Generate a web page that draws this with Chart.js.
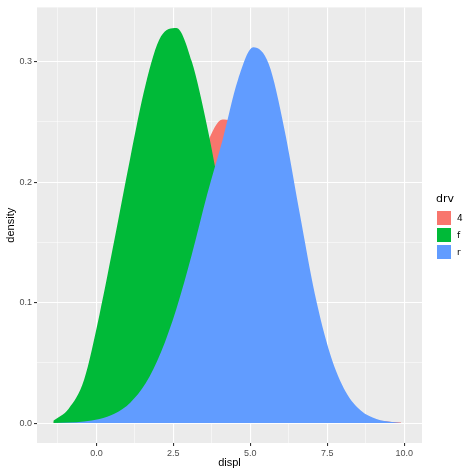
<!DOCTYPE html>
<html><head><meta charset="utf-8">
<script src="https://cdn.jsdelivr.net/npm/chart.js@4"></script>
<style>
body{margin:0;background:#fff;font-family:"DejaVu Sans",sans-serif}
#wrap{position:relative;width:474px;height:474px}
#leg{position:absolute;left:436px;top:192px;font-size:11px;color:#000}
.it{display:flex;align-items:center;height:17px;font-size:9px;color:#000}
.sw{width:14px;height:14px;margin-right:5px;border:1px solid #fff}
</style></head><body>
<div id="wrap"><canvas id="c" width="474" height="474"></canvas>
<div id="leg"><div style="margin-bottom:4px">drv</div>
<div class="it"><div class="sw" style="background:#F8766D"></div>4</div>
<div class="it"><div class="sw" style="background:#00BA38"></div>f</div>
<div class="it"><div class="sw" style="background:#619CFF"></div>r</div></div></div>
<script>
const xs=[-1.4,-0.9,-0.4,0.1,0.6,1.1,1.6,2.1,2.6,3.1,3.6,4.1,4.6,5.1,5.6,6.1,6.6,7.1,7.6,8.1,8.6,9.1,9.6,9.9];
const d4=[0.0005,0.0014,0.0037,0.0087,0.0186,0.036,0.063,0.102,0.147,0.193,0.232,0.252,0.246,0.217,0.175,0.128,0.085,0.051,0.028,0.014,0.006,0.0025,0.001,0.0005];
const dF=[0.002,0.012,0.036,0.090,0.154,0.220,0.281,0.321,0.328,0.300,0.246,0.180,0.118,0.069,0.036,0.017,0.0072,0.0028,0.001,0.0004,0.0002,0.0001,0,0];
const dR=[0.0002,0.0005,0.0014,0.0035,0.008,0.017,0.033,0.059,0.095,0.140,0.190,0.235,0.285,0.312,0.298,0.245,0.175,0.107,0.057,0.026,0.0102,0.0035,0.001,0.0002];
const xTicks=[0,2.5,5,7.5,10];
const yTicks=[0,0.1,0.2,0.3];
const pts=a=>a.map((v,i)=>({x:xs[i],y:v}));
const ds=(d,c,o)=>({data:pts(d),backgroundColor:c,borderWidth:0,fill:'origin',pointRadius:0,cubicInterpolationMode:'monotone',order:o});
const isMajor=(v,arr)=>arr.some(t=>Math.abs(t-v)<1e-6);
new Chart(document.getElementById('c'),{type:'line',
data:{datasets:[ds(d4,'#F8766D',3),ds(dF,'#00BA38',2),ds(dR,'#619CFF',1)]},
options:{responsive:false,animation:false,layout:{padding:{top:5,right:52}},
plugins:{legend:{display:false},tooltip:{enabled:false}},
scales:{
x:{type:'linear',min:-1.93,max:10.58,afterBuildTicks:s=>{s.ticks=[-1.25,0,1.25,2.5,3.75,5,6.25,7.5,8.75,10].map(v=>({value:v}));},
 ticks:{color:'#4D4D4D',font:{size:9},maxRotation:0,padding:2,callback:v=>isMajor(v,xTicks)?v.toFixed(1):''},
 grid:{color:'#fff',lineWidth:c=>isMajor(c.tick.value,xTicks)?1.1:0.5,tickLength:3,tickColor:c=>isMajor(c.tick.value,xTicks)?'#333':'rgba(0,0,0,0)'},border:{display:false},
 title:{display:true,text:'displ',font:{size:11},color:'#000',padding:{top:0}},afterFit:s=>{s.height=31;}},
y:{min:-0.0165,max:0.345,afterBuildTicks:s=>{s.ticks=[0,0.05,0.1,0.15,0.2,0.25,0.3].map(v=>({value:v}));},
 ticks:{color:'#4D4D4D',font:{size:9},padding:2,callback:v=>isMajor(v,yTicks)?v.toFixed(1):''},
 grid:{color:'#fff',lineWidth:c=>isMajor(c.tick.value,yTicks)?1.1:0.5,tickLength:3,tickColor:c=>isMajor(c.tick.value,yTicks)?'#333':'rgba(0,0,0,0)'},border:{display:false},
 title:{display:true,text:'density',font:{size:11},color:'#000',padding:{bottom:2}},afterFit:s=>{s.width=37;}}}},
plugins:[{id:'bg',beforeDraw:c=>{const a=c.chartArea,x=c.ctx;x.fillStyle='#EBEBEB';x.fillRect(a.left,a.top,a.right-a.left,a.bottom-a.top);}}]});
</script></body></html>
